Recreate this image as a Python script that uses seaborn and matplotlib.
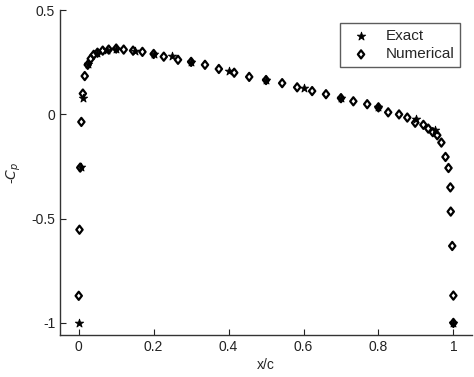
import matplotlib
matplotlib.use("Agg")
import matplotlib.pyplot as plt
import seaborn as sns
import pandas as pd
from matplotlib.path import Path

# Exact data
exact_x = [0.0, 0.005, 0.0125, 0.025, 0.05, 0.075, 0.1, 0.15, 0.2, 0.25, 0.3,
           0.4, 0.5, 0.6, 0.7, 0.8, 0.9, 0.95, 1.0]
exact_y = [-1.0, -0.25, 0.08, 0.24, 0.296, 0.311, 0.316, 0.306, 0.29, 0.28, 0.252,
           0.21, 0.165, 0.126, 0.078, 0.034, -0.02, -0.073, -1.0]

# Numerical data
num_x = [0.0, 0.002, 0.004, 0.007, 0.011, 0.016, 0.024, 0.032, 0.040, 0.050,
         0.064, 0.080, 0.100, 0.120, 0.145, 0.170, 0.200, 0.227, 0.265, 0.300,
         0.337, 0.374, 0.415, 0.455, 0.500, 0.543, 0.583, 0.623, 0.660, 0.700,
         0.733, 0.770, 0.800, 0.826, 0.855, 0.877, 0.898, 0.920, 0.933, 0.945,
         0.957, 0.968, 0.979, 0.987, 0.992, 0.993, 0.997, 1.0, 1.0]
num_y = [-0.87, -0.553, -0.255, -0.036, 0.10, 0.184, 0.238, 0.267, 0.286, 0.296,
         0.306, 0.311, 0.316, 0.311, 0.306, 0.300, 0.290, 0.277, 0.262, 0.252,
         0.238, 0.218, 0.200, 0.180, 0.165, 0.150, 0.130, 0.112, 0.097, 0.078,
         0.063, 0.049, 0.034, 0.010, 0.000, -0.015, -0.040, -0.050, -0.068, -0.085,
         -0.100, -0.135, -0.204, -0.257, -0.350, -0.466, -0.631, -0.869, -1.0]

x_ticks = [0, 0.2, 0.4, 0.6, 0.8, 1]
x_tick_labels = ["0", "0.2", "0.4", "0.6", "0.8", "1"]
y_ticks = [-1, -0.5, 0, 0.5]
y_tick_labels = ["-1", "-0.5", "0", "0.5"]

sns.set_style("white")
plt.rcParams['font.family'] = ['Liberation Sans', 'DejaVu Sans']

fig = plt.figure(figsize=(4.74, 3.77), dpi=100)
ax = fig.add_axes([0.1266, 0.1114, 0.8694, 0.8616])

df_e = pd.DataFrame({"x": exact_x, "y": exact_y})
df_n = pd.DataFrame({"x": num_x, "y": num_y})

diamond = Path([(0, 1), (0.78, 0), (0, -1), (-0.78, 0), (0, 1)],
               [Path.MOVETO, Path.LINETO, Path.LINETO, Path.LINETO, Path.CLOSEPOLY])

sns.scatterplot(data=df_n, x="x", y="y", marker=diamond, s=34, facecolors="none",
                edgecolor="black", linewidth=1.6, ax=ax, label="Numerical", zorder=3)
sns.scatterplot(data=df_e, x="x", y="y", marker="*", s=40, color="black",
                edgecolor="black", linewidth=0.6, ax=ax, label="Exact", zorder=4)

ax.set_xlim(-0.05, 1.05)
ax.set_ylim(-1.058, 0.5)
ax.set_xticks(x_ticks)
ax.set_xticklabels(x_tick_labels)
ax.set_yticks(y_ticks)
ax.set_yticklabels(y_tick_labels)
ax.tick_params(direction="in", length=4, width=0.8, labelsize=10, colors="#222222",
               bottom=True, left=True)
for s in ["top", "right"]:
    ax.spines[s].set_visible(False)
for s in ["left", "bottom"]:
    ax.spines[s].set_color("#333333")
    ax.spines[s].set_linewidth(1.0)

ax.set_xlabel("x/c", fontsize=10, labelpad=3)
ax.set_ylabel("-$C_p$", fontsize=10, labelpad=6)

handles, labels = ax.get_legend_handles_labels()
order = [labels.index("Exact"), labels.index("Numerical")]
leg = ax.legend([handles[i] for i in order], [labels[i] for i in order],
                loc="upper right", bbox_to_anchor=(0.99, 0.985), fontsize=11,
                frameon=True, fancybox=False, edgecolor="#333333",
                handletextpad=0.6, borderpad=0.4, labelspacing=0.3,
                handlelength=2.0)
leg.get_frame().set_linewidth(1.0)

fig.savefig("out.png", dpi=100)
